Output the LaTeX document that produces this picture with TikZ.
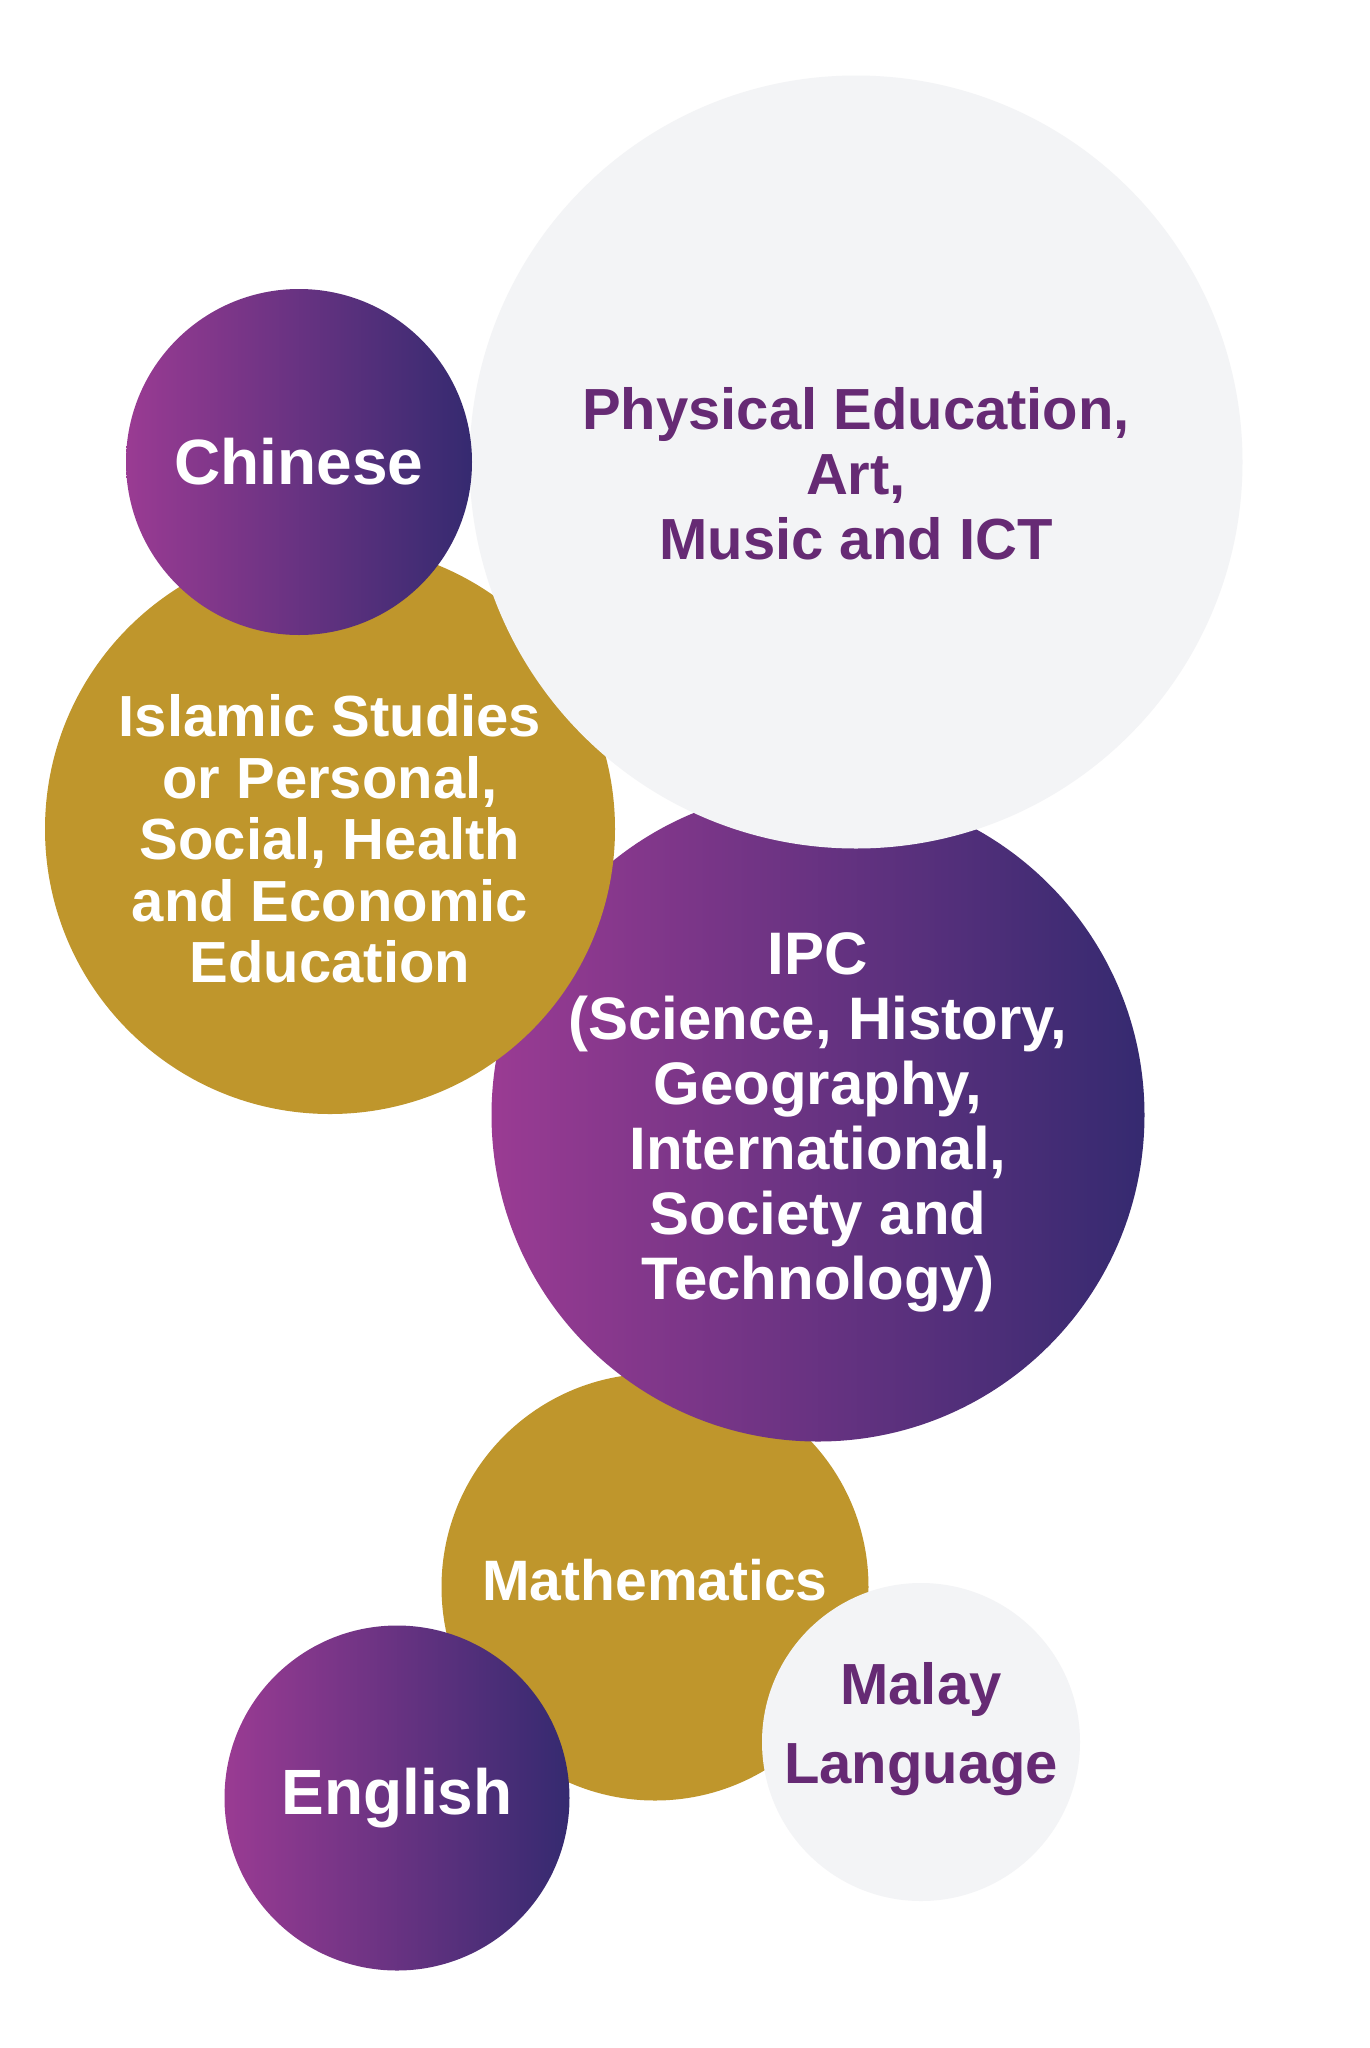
\documentclass[tikz,border=0pt]{standalone}
\usepackage{fontspec}
\setmainfont{Liberation Sans}
\definecolor{gold}{HTML}{BF962C}
\definecolor{pleft}{HTML}{9A3B93}
\definecolor{pright}{HTML}{352A70}
\definecolor{pale}{HTML}{F3F4F6}
\definecolor{ink}{HTML}{662A74}
\tikzset{
  bubble/.style={circle, inner sep=0pt, minimum size=#1},
  goldb/.style={bubble=#1, fill=gold},
  grad/.style={bubble=#1, left color=pleft, right color=pright},
  paleb/.style={bubble=#1, fill=pale},
  lbl/.style={align=center, inner sep=0pt, font=\bfseries\fontsize{58}{65}\selectfont},
  big/.style={font=\bfseries\fontsize{64}{72}\selectfont}
}
\begin{document}
\begin{tikzpicture}[x=1pt,y=-1pt]
\useasboundingbox[fill=white] (0,0) rectangle (1370,2048);
\node[goldb=427pt] (math) at (655,1587) {};
\node[lbl, text=white, font=\bfseries\fontsize{57}{65}\selectfont] (mathT) at ([yshift=7pt]math.center) {Mathematics};
\node[grad=653pt] (ipc) at (818,1115) {};
\node[lbl, text=white, font=\bfseries\fontsize{60}{65}\selectfont] (ipcT) at ([yshift=-7pt]ipc.center) {IPC\\(Science, History,\\Geography,\\International,\\Society and\\Technology)};
\node[goldb=570pt] (isl) at (330,829) {};
\node[lbl, text=white, font=\bfseries\fontsize{58}{61.5}\selectfont] (islT) at ([yshift=-10pt]isl.center) {Islamic Studies\\or Personal,\\Social, Health\\and Economic\\Education};
\node[paleb=773pt] (pe) at (856,462) {};
\node[lbl, text=ink] (peT) at ([yshift=-12pt]pe.center) {Physical Education,\\Art,\\Music and ICT};
\node[grad=346pt] (chi) at (299,462) {};
\node[lbl, big, text=white] (chiT) at (chi.center) {Chinese};
\node[grad=345pt] (eng) at (397,1798) {};
\node[lbl, big, text=white] (engT) at (eng.center) {English};
\node[paleb=318pt] (mal) at (921,1742) {};
\node[lbl, text=ink, font=\bfseries\fontsize{58}{79}\selectfont] (malT) at ([yshift=13pt]mal.center) {Malay\\Language};
\end{tikzpicture}
\end{document}
